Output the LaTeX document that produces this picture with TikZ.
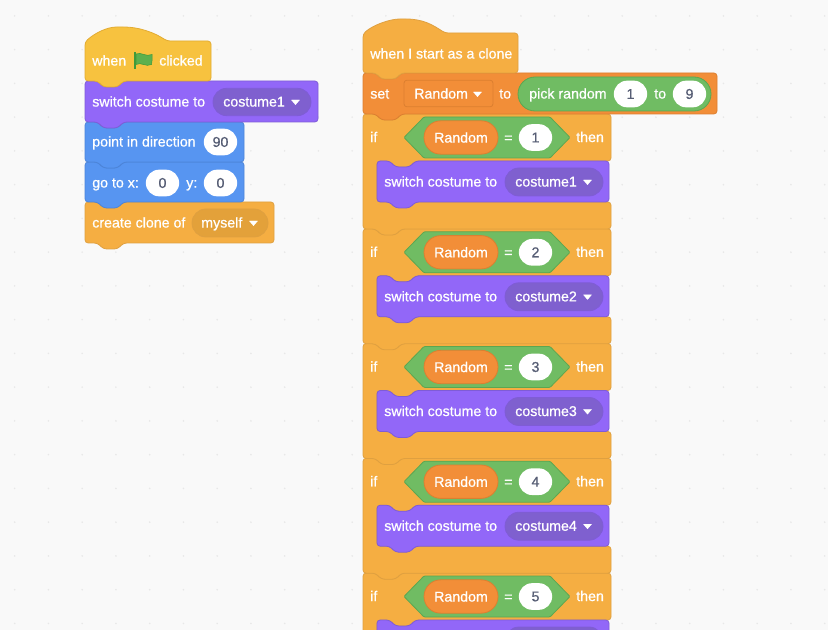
\documentclass[tikz,border=0pt]{standalone}
\usepackage{fontspec}
\setmainfont{Liberation Sans}[FakeBold=0.7]
\definecolor{bgc}{HTML}{F9F9F9}
\definecolor{dotc}{HTML}{E8E8E8}
\definecolor{hatY}{HTML}{F7C23F}
\definecolor{hatYs}{HTML}{E3AC33}
\definecolor{purp}{HTML}{9267F8}
\definecolor{purps}{HTML}{7F5CD6}
\definecolor{purpd}{HTML}{7F60CF}
\definecolor{blu}{HTML}{5795F1}
\definecolor{blus}{HTML}{4C84D8}
\definecolor{org}{HTML}{F5AE42}
\definecolor{orgs}{HTML}{DFA040}
\definecolor{orgd}{HTML}{E3A13A}
\definecolor{dat}{HTML}{F28E38}
\definecolor{dats}{HTML}{DC7F30}
\definecolor{grn}{HTML}{70BC63}
\definecolor{grns}{HTML}{5CA650}
\definecolor{flagg}{HTML}{5CB04E}
\definecolor{flags}{HTML}{3F9A3A}
\definecolor{inkc}{HTML}{575E75}
\tikzset{
  x=0.75pt,y=-0.75pt,
  blk/.style={line width=0.6pt,rounded corners=2.4pt,line join=round},
  lbl/.style={text=white,anchor=mid west,inner sep=0pt,yshift=-0.4pt,font=\fontsize{10.65}{12}\selectfont},
  pillbase/.style={inner sep=0pt,line width=0.6pt,font=\fontsize{10.65}{12}\selectfont},
  whitein/.style={pillbase,fill=white,text=inkc,minimum height=20pt,rounded corners=10pt},
  tri/.style={fill=white,draw=white,line width=0.3pt,line join=round},
}
% stack block: fill, stroke, x, y, width, height
\newcommand\stackblock[6]{
  \path[blk,draw=#2,fill=#1] (#3,#4) -- ++(12.5,0) -- ++(6,6) -- ++(14,0) -- ++(6,-6)
    -- ++({#5-38.5},0) -- ++(0,#6) -- ++({38.5-#5},0) -- ++(-6,6) -- ++(-14,0) -- ++(-6,-6) -- ++(-12.5,0) -- cycle;
}
% hat block: fill, stroke, x, y of flat top, width, height, apex offset
\newcommand\hatblock[7]{
  \path[blk,draw=#2,fill=#1] (#3,#4+1) .. controls ({#3+10},{#4-8}) and ({#3+#7-13},{#4-14}) .. ({#3+#7},{#4-14})
    .. controls ({#3+#7+20},{#4-14}) and ({#3+70},{#4-8}) .. ({#3+82},#4)
    -- ({#3+#5},#4) -- ++(0,#6) -- ({#3+38.5},{#4+#6}) -- ++(-6,6) -- ++(-14,0) -- ++(-6,-6) -- (#3,{#4+#6}) -- cycle;
}
% if block at top y
\newcommand\cblock[1]{
  \path[blk,draw=orgs,fill=org] (363,#1) -- ++(12.5,0) -- ++(6,6) -- ++(14,0) -- ++(6,-6) -- (611,#1)
    -- (611,{#1+47}) -- (415.5,{#1+47}) -- ++(-6,6) -- ++(-14,0) -- ++(-6,-6) -- (377,{#1+47})
    -- (377,{#1+88}) -- (611,{#1+88}) -- (611,{#1+115}) -- (401.5,{#1+115}) -- ++(-6,6) -- ++(-14,0) -- ++(-6,-6)
    -- (363,{#1+115}) -- cycle;
}
% dropdown triangle centred at x,y
\newcommand\dtri[2]{
  \path[tri] ({#1-4},{#2-2}) -- ({#1+4},{#2-2}) -- (#1,{#2+2.6}) -- cycle;
}
\begin{document}
\begin{tikzpicture}
\useasboundingbox (0,0) rectangle (828,630);
\fill[bgc] (0,0) rectangle (828,630);
\begin{scope}
\clip (0,0) rectangle (828,630);
% workspace dots
\foreach \i in {0,...,24}{
  \foreach \j in {0,...,18}{
    \fill[dotc] ({14.7+\i*33.75},{15.9+\j*33.75}) circle (0.9);
  }
}
% ---------- right stack, drawn from the bottom up
\foreach \i/\y in {5/573,4/458.2,3/343.5,2/228.8,1/114}{
  \cblock{\y}
  \stackblock{purp}{purps}{377}{\y+47}{232}{41}
  \path[blk,draw=grns,fill=grn,rounded corners=0.8pt] (404,{\y+23.5}) -- (424,{\y+3}) -- (550,{\y+3}) -- (570,{\y+23.5}) -- (550,{\y+44}) -- (424,{\y+44}) -- cycle;
  \node[pillbase,fill=dat,draw=dats,text=white,minimum width=55.5pt,minimum height=25pt,rounded corners=12.5pt] (rnd\i) at (461,{\y+23.5}) {Random};
  \node[lbl] (eq\i) at (504,{\y+24.5}) {=};
  \node[whitein,minimum width=25pt] (val\i) at (535.5,{\y+23.5}) {\i};
  \node[lbl] (if\i) at (370,{\y+24}) {if};
  \node[lbl] (then\i) at (576,{\y+24}) {then};
  \node[pillbase,fill=purpd,draw=purps,text=white,minimum width=73.5pt,minimum height=21pt,rounded corners=10.5pt] (cos\i) at (554,{\y+68}) {};
  \ifnum\i<5
    \node[lbl] (sw\i) at (384,{\y+68.5}) {switch costume to};
    \node[lbl] (cn\i) at (515,{\y+68.5}) {costume\i};
    \dtri{587.5}{\y+68}
  \fi
}
% set block
\stackblock{dat}{dats}{363}{73}{354}{41}
\node[lbl] (setw) at (370,94.5) {set};
\node[pillbase,fill=dat,draw=dats,minimum width=66.75pt,minimum height=20pt,rounded corners=2.2pt] (field) at (448.5,93.5) {};
\node[lbl] (fieldt) at (414,94.5) {Random};
\dtri{477.5}{94}
\node[lbl] (tow) at (499,94.5) {to};
\node[pillbase,fill=grn,draw=grns,minimum width=144.75pt,minimum height=25.5pt,rounded corners=12.75pt] (pick) at (614.5,94) {};
\node[lbl] (pickt) at (529,94.5) {pick random};
\node[whitein,minimum width=25pt] (one) at (630.5,94) {1};
\node[lbl] (tow2) at (654,94.5) {to};
\node[whitein,minimum width=25pt] (nine) at (689.5,94) {9};
% clone hat
\hatblock{org}{orgs}{363}{33}{155}{40}{40}
\node[lbl] (clone) at (370,54.5) {when I start as a clone};
% ---------- left stack
\stackblock{org}{orgs}{85}{202}{189}{41}
\node[lbl] (createt) at (92,223.5) {create clone of};
\node[pillbase,fill=orgd,draw=orgs,minimum width=57pt,minimum height=21pt,rounded corners=10.5pt] (mys) at (230,223) {};
\node[lbl] (myst) at (201,223.5) {myself};
\dtri{253.5}{223}
\stackblock{blu}{blus}{85}{162}{159}{40}
\node[lbl] (goto) at (92,183.5) {go to x:};
\node[whitein,minimum width=25pt] (xv) at (162.5,183) {0};
\node[lbl] (ylab) at (186,183.5) {y:};
\node[whitein,minimum width=25pt] (yv) at (220.5,183) {0};
\stackblock{blu}{blus}{85}{122}{159}{40}
\node[lbl] (point) at (92,142.5) {point in direction};
\node[whitein,minimum width=25pt] (dir) at (220.5,142) {90};
\stackblock{purp}{purps}{85}{81}{233}{41}
\node[lbl] (sw0) at (92,102.5) {switch costume to};
\node[pillbase,fill=purpd,draw=purps,minimum width=73.5pt,minimum height=20.5pt,rounded corners=10.2pt] (cos0) at (262,102) {};
\node[lbl] (cn0) at (223,102.5) {costume1};
\dtri{295.5}{102}
% flag hat
\hatblock{hatY}{hatYs}{85}{41}{126}{40}{35}
\node[lbl] (when) at (92,61.5) {when};
\path[draw=flags,line width=1.1pt] (135,52.5) -- (135,69.5);
\path[fill=flagg,draw=flags,line width=0.4pt] (136,54) .. controls (141,51.5) and (146,57.5) .. (152,54.5)
  .. controls (152.5,58) and (152,61.5) .. (151.5,64.5)
  .. controls (146,67.5) and (141,61.5) .. (136,64.5) -- cycle;
\node[lbl] (clk) at (159,61.5) {clicked};
\end{scope}
\end{tikzpicture}
\end{document}
